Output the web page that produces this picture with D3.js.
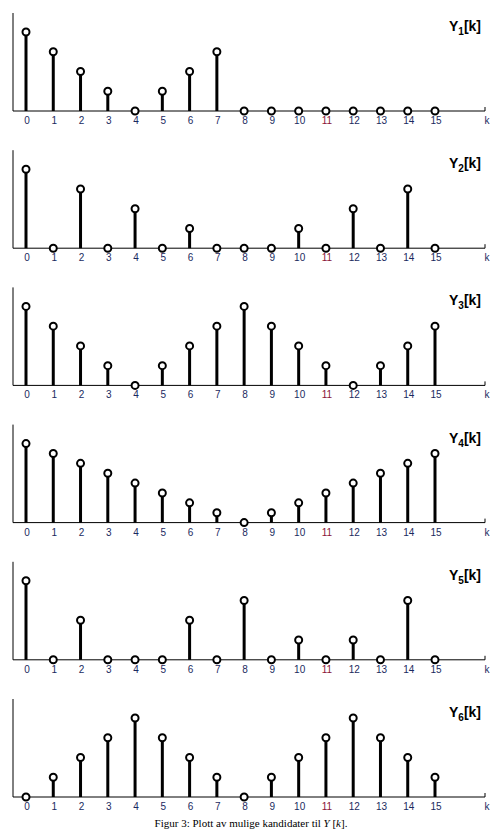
<!DOCTYPE html><html><head><meta charset="utf-8"><script src="https://cdn.jsdelivr.net/npm/d3@7"></script>
<style>body{margin:0;background:#fff}</style></head><body><svg id="c" width="502" height="835"></svg><script>
const ks = d3.range(16);
const tickLabels = ks.map(String);
const Y1 = [4,3,2,1,0,1,2,3,0,0,0,0,0,0,0,0];
const Y2 = [4,0,3,0,2,0,1,0,0,0,1,0,2,0,3,0];
const Y3 = [4,3,2,1,0,1,2,3,4,3,2,1,0,1,2,3];
const Y4 = [4,3.5,3,2.5,2,1.5,1,0.5,0,0.5,1,1.5,2,2.5,3,3.5];
const Y5 = [4,0,2,0,0,0,2,0,3,0,1,0,1,0,3,0];
const Y6 = [0,1,2,3,4,3,2,1,0,1,2,3,4,3,2,1];
const series = [Y1,Y2,Y3,Y4,Y5,Y6];
const names = ["1","2","3","4","5","6"];
const svg = d3.select("#c");
const x = d3.scaleLinear().domain([0,15]).range([26,435]);
const y = d3.scaleLinear().domain([0,4]).range([0,-79]);
series.forEach((s,i)=>{
  const base = 111 + i*137.2;
  const g = svg.append("g").attr("transform",`translate(0,${base})`);
  g.append("line").attr("x1",13).attr("x2",13).attr("y1",-98).attr("y2",0).attr("stroke","#000").attr("stroke-width",1);
  g.append("line").attr("x1",13).attr("x2",485).attr("y1",0).attr("y2",0).attr("stroke","#000").attr("stroke-width",1);
  g.append("line").attr("x1",485).attr("x2",485).attr("y1",-4).attr("y2",0).attr("stroke","#000");
  g.selectAll(".stem").data(s).join("line").attr("x1",(d,k)=>x(k)).attr("x2",(d,k)=>x(k)).attr("y1",0).attr("y2",d=>y(d)).attr("stroke","#000").attr("stroke-width",3);
  g.selectAll("circle").data(s).join("circle").attr("cx",(d,k)=>x(k)).attr("cy",d=>y(d)).attr("r",3.5).attr("fill","#fff").attr("stroke","#000").attr("stroke-width",2);
  g.selectAll(".tl").data(tickLabels).join("text").attr("x",(d,k)=>x(k)+1).attr("y",13).attr("text-anchor","middle")
    .attr("font-family","Liberation Sans, Arial").attr("font-size",10).attr("fill",(d,k)=>k===11?"#8a1538":"#1a2a60").text(d=>d);
  g.append("text").attr("x",487).attr("y",13).attr("text-anchor","middle").attr("font-family","Liberation Sans, Arial").attr("font-size",10).attr("fill","#1a2a60").text("k");
  const t = g.append("text").attr("x",449).attr("y",-80).attr("font-family","Liberation Sans, Arial").attr("font-size",14).attr("font-weight","bold");
  t.append("tspan").text("Y");
  t.append("tspan").attr("font-size",10).attr("dy",4).text(names[i]);
  t.append("tspan").attr("dy",-4).text("[k]");
});
const cap = svg.append("text").attr("x",251).attr("y",827).attr("text-anchor","middle").attr("font-family","Liberation Serif, Times New Roman").attr("font-size",11);
cap.append("tspan").text("Figur 3: Plott av mulige kandidater til ");
cap.append("tspan").attr("font-style","italic").text("Y");
cap.append("tspan").text(" [");
cap.append("tspan").attr("font-style","italic").text("k");
cap.append("tspan").text("].");
</script></body></html>
